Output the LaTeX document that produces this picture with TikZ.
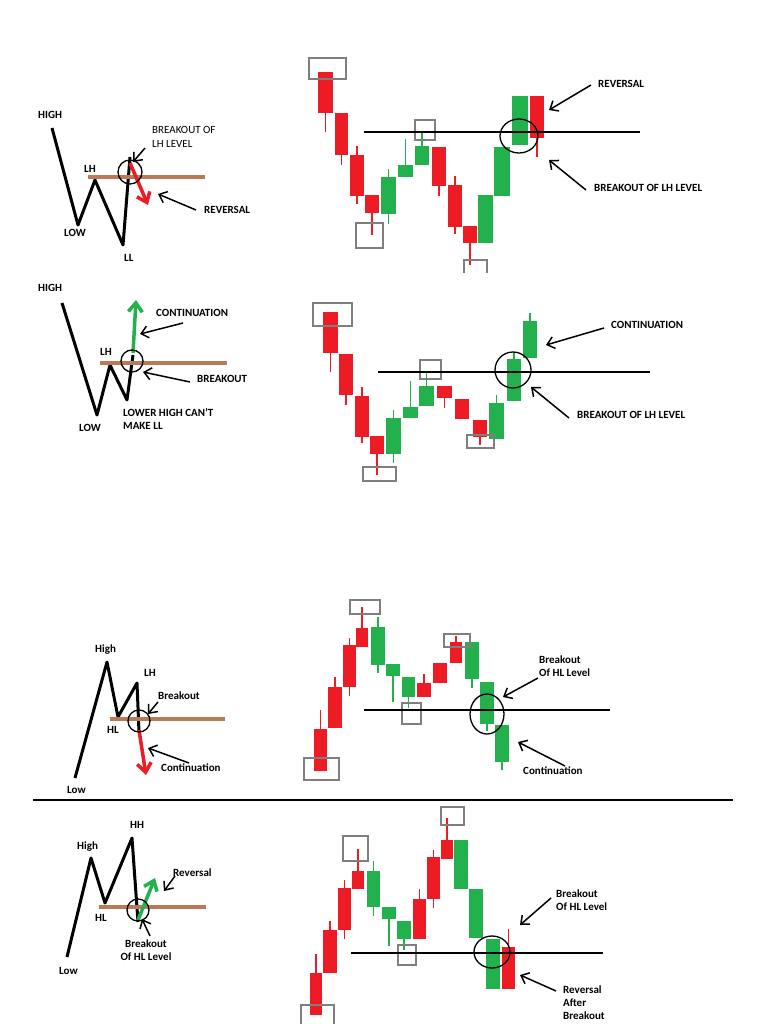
\documentclass[tikz,border=0pt]{standalone}
\usepackage{fontspec}
\setmainfont{Carlito}
\usetikzlibrary{arrows.meta}
\definecolor{cred}{RGB}{237,28,36}
\definecolor{cgreen}{RGB}{34,177,76}
\definecolor{cbrown}{RGB}{185,122,87}
\definecolor{cgray}{RGB}{127,127,127}
\newcommand\cdl[7]{%
  \draw[#1,line width=1.6pt] ({(#2+#3)/2},#6) -- ({(#2+#3)/2},#7);
  \fill[#1] (#2,#4) rectangle (#3,#5);}
\tikzset{
  lbl/.style={font=\bfseries\fontsize{11}{13}\selectfont,inner sep=0pt,align=left,anchor=west},
  hand/.style={line width=1.5pt,-{Straight Barb[length=7pt,width=12pt]}},
  level/.style={line width=1.6pt},
  sketch/.style={line width=3pt,line join=round},
  brownlvl/.style={cbrown,line width=4pt},
  graybox/.style={cgray,line width=1.5pt},
  ring/.style={line width=1.3pt},
  thickarrow/.style={line width=3.5pt,-{Straight Barb[length=9pt,width=14pt]}}
}
\begin{document}
\begin{tikzpicture}[x=1pt,y=-1pt]
\useasboundingbox (0,0) rectangle (768,1024);
\clip (0,0) rectangle (768,1024);
\fill[white] (0,0) rectangle (768,1024);
% ===== Panel 1 left sketch
\node[lbl] (h1) at (38,115) {HIGH};
\draw[sketch] (52,128) -- (78,225) -- (95,180) -- (123,245) -- (130,157);
\draw[brownlvl] (88,177) -- (205,177);
\node[lbl] (lh1) at (84,169) {LH};
\node[lbl] (low1) at (64,233) {LOW};
\node[lbl] (ll1) at (124,258) {LL};
\draw[cred,thickarrow] (130,163) -- (148,205);
\draw[ring] (130,172) circle (12);
\node[lbl,font=\fontsize{11}{14}\selectfont] (bo1) at (152,137) {BREAKOUT OF\\LH LEVEL};
\coordinate (bo1t) at (133,162);
\draw[hand] (145,148) -- (bo1t);
\node[lbl] (rv1) at (204,210) {REVERSAL};
\draw[hand] (rv1.west) ++(-8,0) -- (158,194);
% ===== Panel 1 chart
\cdl{cred}{318}{333}{72}{113}{72}{132}
\cdl{cred}{335}{348}{113}{155}{113}{165}
\cdl{cred}{350}{364}{155}{196}{146}{204}
\cdl{cred}{365}{379}{195}{213}{195}{235}
\cdl{cgreen}{381}{396}{177}{214}{169}{224}
\cdl{cgreen}{398}{413}{165}{177}{139}{177}
\cdl{cgreen}{415}{429}{146}{165}{133}{165}
\cdl{cred}{432}{446}{147}{186}{147}{196}
\cdl{cred}{448}{462}{185}{227}{176}{234}
\cdl{cred}{463}{477}{226}{243}{226}{265}
\cdl{cgreen}{478}{493}{195}{243}{195}{243}
\cdl{cgreen}{494}{510}{147}{196}{147}{196}
\cdl{cgreen}{512}{528}{96}{145}{96}{145}
\cdl{cred}{530}{544}{96}{138}{96}{157}
\draw[graybox] (309,58) rectangle (346,79);
\draw[graybox] (356,223) rectangle (383,248);
\draw[graybox] (415,120) rectangle (435,140);
\draw[graybox] (464,273) -- (464,260) -- (487,260) -- (487,273);
\draw[level] (364,132) -- (640,132);
\draw[ring] (519,136) ellipse (19 and 17);
\node[lbl] (rv1c) at (598,84) {REVERSAL};
\draw[hand] (591,85) -- (549,110);
\node[lbl] (bo1c) at (594,188) {BREAKOUT OF LH LEVEL};
\draw[hand] (586,190) -- (549,160);
% ===== Panel 2 left sketch
\node[lbl] (h2) at (38,288) {HIGH};
\draw[sketch] (62,303) -- (97,415) -- (110,365) -- (127,400) -- (133,355);
\draw[brownlvl] (100,363) -- (227,363);
\draw[cgreen,thickarrow] (133,353) -- (136,300);
\draw[ring] (132,361) circle (11);
\node[lbl] (lh2) at (100,352) {LH};
\node[lbl] (low2) at (79,428) {LOW};
\node[lbl] (lw2) at (123,419) {LOWER HIGH CAN'T\\MAKE LL};
\node[lbl] (ct2) at (156,313) {CONTINUATION};
\draw[hand] (183,323) -- (140,334);
\node[lbl] (bk2) at (197,379) {BREAKOUT};
\draw[hand] (190,382) -- (143,372);
% ===== Panel 2 chart
\cdl{cred}{323}{338}{312}{353}{312}{372}
\cdl{cred}{339}{353}{354}{395}{354}{405}
\cdl{cred}{355}{369}{396}{437}{387}{443}
\cdl{cred}{370}{384}{436}{454}{436}{475}
\cdl{cgreen}{386}{401}{418}{454}{410}{463}
\cdl{cgreen}{403}{418}{407}{418}{381}{418}
\cdl{cgreen}{419}{434}{386}{406}{373}{406}
\cdl{cred}{437}{452}{386}{398}{386}{408}
\cdl{cred}{455}{469}{399}{419}{399}{419}
\cdl{cred}{473}{487}{420}{437}{420}{445}
\cdl{cgreen}{489}{504}{403}{439}{395}{439}
\cdl{cgreen}{507}{521}{359}{401}{352}{401}
\cdl{cgreen}{523}{537}{321}{358}{313}{358}
\draw[graybox] (313,303) rectangle (352,326);
\draw[graybox] (363,467) rectangle (396,481);
\draw[graybox] (420,360) rectangle (441,379);
\draw[graybox] (467,435) rectangle (494,448);
\draw[level] (378,372) -- (650,372);
\draw[ring] (513,370) circle (18);
\node[lbl] (ct2c) at (611,325) {CONTINUATION};
\draw[hand] (604,328) -- (546,345);
\node[lbl] (bo2c) at (577,415) {BREAKOUT OF LH LEVEL};
\draw[hand] (569,418) -- (531,387);
% ===== separator
\draw[line width=1.2pt] (33,800) -- (733,800);
% ===== Panel 3 left sketch
\draw[sketch] (75,778) -- (107,662) -- (118,717) -- (137,683) -- (139,732);
\draw[brownlvl] (110,719) -- (225,719);
\draw[cred,thickarrow] (139,730) -- (146,775);
\draw[ring] (139,721) circle (11);
\node[lbl] (hi3) at (95,650) {High};
\node[lbl] (lh3) at (144,673) {LH};
\node[lbl] (bk3) at (158,696) {Breakout};
\draw[hand] (158,702) -- (148,714);
\node[lbl] (hl3) at (107,730) {HL};
\node[lbl] (ct3) at (161,768) {Continuation};
\draw[hand] (189,763) -- (148,748);
\node[lbl] (lo3) at (67,790) {Low};
% ===== Panel 3 chart
\cdl{cred}{314}{327}{729}{771}{710}{771}
\cdl{cred}{328}{342}{687}{728}{677}{728}
\cdl{cred}{343}{356}{645}{687}{638}{696}
\cdl{cred}{356}{368}{628}{647}{607}{647}
\cdl{cgreen}{371}{385}{627}{665}{617}{673}
\cdl{cgreen}{386}{400}{664}{676}{664}{702}
\cdl{cgreen}{402}{415}{677}{697}{677}{708}
\cdl{cred}{417}{431}{683}{697}{674}{697}
\cdl{cred}{433}{447}{663}{683}{663}{683}
\cdl{cred}{450}{462}{642}{663}{636}{663}
\cdl{cgreen}{465}{479}{642}{679}{642}{688}
\cdl{cgreen}{480}{494}{682}{724}{682}{731}
\cdl{cgreen}{495}{509}{725}{762}{725}{770}
\draw[graybox] (304,758) rectangle (339,780);
\draw[graybox] (350,600) rectangle (380,614);
\draw[graybox] (402,703) rectangle (421,724);
\draw[graybox] (444,634) rectangle (470,647);
\draw[level] (364,710) -- (610,710);
\draw[ring] (487,714) ellipse (17 and 20);
\node[lbl] (bo3c) at (539,666) {Breakout\\Of HL Level};
\draw[hand] (538,678) -- (503,697);
\node[lbl] (ct3c) at (523,771) {Continuation};
\draw[hand] (565,766) -- (518,742);
% ===== Panel 4 left sketch
\draw[sketch] (67,957) -- (91,858) -- (105,903) -- (132,838) -- (138,922);
\draw[brownlvl] (99,907) -- (206,907);
\draw[cgreen,thickarrow] (138,920) -- (155,878);
\draw[ring] (138,910) circle (11);
\node[lbl] (hh4) at (130,825) {HH};
\node[lbl] (hi4) at (77,847) {High};
\node[lbl] (hl4) at (95,918) {HL};
\node[lbl] (lo4) at (59,971) {Low};
\node[lbl] (rv4) at (173,873) {Reversal};
\draw[hand] (175,876) -- (164,891);
\node[lbl,align=center,anchor=north] (bo4) at (146,940) {Breakout\\Of HL Level};
\draw[hand] (150,936) -- (142,919);
% ===== Panel 4 chart
\cdl{cred}{310}{322}{973}{1015}{954}{1015}
\cdl{cred}{323}{337}{930}{973}{921}{973}
\cdl{cred}{338}{351}{888}{930}{880}{939}
\cdl{cred}{352}{364}{871}{889}{849}{889}
\cdl{cgreen}{367}{380}{871}{907}{861}{916}
\cdl{cgreen}{382}{396}{907}{919}{907}{946}
\cdl{cgreen}{397}{411}{921}{939}{921}{950}
\cdl{cred}{413}{426}{899}{939}{889}{939}
\cdl{cred}{427}{440}{857}{899}{850}{908}
\cdl{cred}{441}{453}{840}{859}{818}{859}
\cdl{cgreen}{454}{468}{840}{889}{840}{889}
\cdl{cgreen}{469}{483}{889}{938}{889}{938}
\cdl{cgreen}{486}{500}{939}{989}{939}{989}
\cdl{cred}{502}{515}{947}{989}{929}{989}
\draw[graybox] (301,1005) rectangle (334,1026);
\draw[graybox] (343,836) rectangle (368,861);
\draw[graybox] (398,945) rectangle (416,965);
\draw[graybox] (441,807) rectangle (464,825);
\draw[level] (351,953) -- (603,953);
\draw[ring] (492,952) ellipse (18 and 16);
\node[lbl] (bo4c) at (556,900) {Breakout\\Of HL Level};
\draw[hand] (551,898) -- (520,925);
\node[lbl,anchor=north west] (rv4c) at (563,986) {Reversal\\After\\Breakout};
\draw[hand] (556,991) -- (520,975);
\end{tikzpicture}
\end{document}
